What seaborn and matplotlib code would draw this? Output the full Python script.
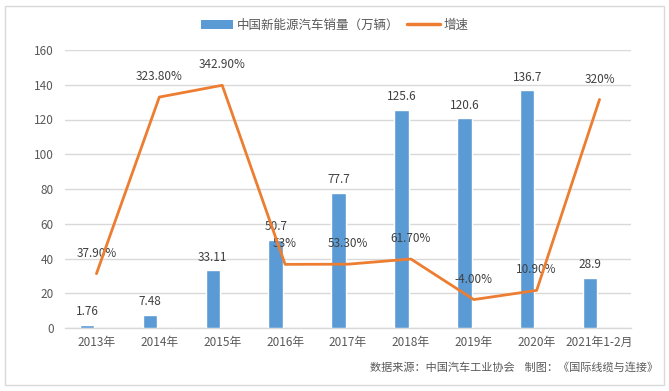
import numpy as np
import pandas as pd
import matplotlib
matplotlib.use("Agg")
import matplotlib.pyplot as plt
from matplotlib.lines import Line2D
from matplotlib.patches import Patch, Rectangle
import seaborn as sns

categories = ["2013年", "2014年", "2015年", "2016年", "2017年", "2018年", "2019年", "2020年", "2021年1-2月"]
sales = [1.76, 7.48, 33.11, 50.7, 77.7, 125.6, 120.6, 136.7, 28.9]
sales_labels = ["1.76", "7.48", "33.11", "50.7", "77.7", "125.6", "120.6", "136.7", "28.9"]
growth = [37.9, 323.8, 342.9, 53.0, 53.3, 61.7, -4.0, 10.9, 320.0]
growth_labels = ["37.90%", "323.80%", "342.90%", "53%", "53.30%", "61.70%", "-4.00%", "10.90%", "320%"]
yticks = [0, 20, 40, 60, 80, 100, 120, 140, 160]

sns.set_theme(style="white")
plt.rcParams['font.family'] = ['Noto Sans CJK SC', 'DejaVu Sans']

BLUE = "#5B9BD5"
ORANGE = "#ED7D31"
GRID = "#D9D9D9"
TXT = "#595959"

W, H = 669, 391
fig = plt.figure(figsize=(W / 100, H / 100), dpi=100)
ax = fig.add_axes([65 / W, 1 - 328 / H, (631 - 65) / W, (328 - 50) / H])

df = pd.DataFrame({"cat": categories, "sales": sales})
sns.barplot(data=df, x="cat", y="sales", color=BLUE, width=0.23, ax=ax,
            saturation=1, errorbar=None, zorder=3)
# shift bars slightly left of category centre (as in the original)
for p in ax.patches:
    p.set_x(p.get_x() - 0.15)
ax.bar_label(ax.containers[0], labels=sales_labels, padding=5, fontsize=8.5, color="#404040")

ax.set_xlim(-0.5, len(categories) - 0.5)
ax.set_ylim(0, 160)
ax.set_yticks(yticks)
ax.yaxis.grid(True, color=GRID, lw=1)
ax.set_axisbelow(True)
ax.set_xlabel("")
ax.set_ylabel("")
for s in ["top", "right", "left"]:
    ax.spines[s].set_visible(False)
ax.spines["bottom"].set_color(GRID)
ax.spines["bottom"].set_linewidth(1)
ax.tick_params(axis="y", length=0, labelsize=8.5, labelcolor=TXT, pad=8)
ax.tick_params(axis="x", which="major", length=0, labelsize=8.5, labelcolor=TXT, pad=6)
ax.set_xticks(np.arange(-0.5, len(categories) - 1, 2), minor=True)
ax.tick_params(axis="x", which="minor", length=4, color=GRID, width=1, direction="out")

ax2 = ax.twinx()
ldf = pd.DataFrame({"x": np.arange(len(categories)), "growth": growth})
sns.lineplot(data=ldf, x="x", y="growth", color=ORANGE, lw=2, ax=ax2, zorder=4)
ax2.set_ylim(-50, 400)
ax2.set_xlim(-0.5, len(categories) - 0.5)
ax2.axis("off")
for i, (g, lab) in enumerate(zip(growth, growth_labels)):
    ax2.annotate(lab, (i, g), xytext=(0, 10), textcoords="offset points",
                 ha="center", va="bottom", fontsize=8.5, color="#404040")

handles = [Patch(facecolor=BLUE, edgecolor="none"),
           Line2D([0], [0], color=ORANGE, lw=2.5)]
fig.legend(handles, ["中国新能源汽车销量（万辆）", "增速"], loc="center",
           bbox_to_anchor=(0.5, 1 - 25 / H), ncol=2, frameon=False, fontsize=9,
           labelcolor=TXT, handlelength=2.6, handleheight=0.7, columnspacing=0.6,
           handletextpad=0.3)

fig.text(658 / W, 1 - 367 / H, "数据来源：中国汽车工业协会    制图：《国际线缆与连接》",
         ha="right", va="center", fontsize=8, color=TXT)

fig.patches.append(Rectangle((5 / W, 6 / H), 659 / W, 379 / H, transform=fig.transFigure,
                             fill=False, edgecolor=GRID, lw=1))

fig.savefig("out.png", dpi=100)
